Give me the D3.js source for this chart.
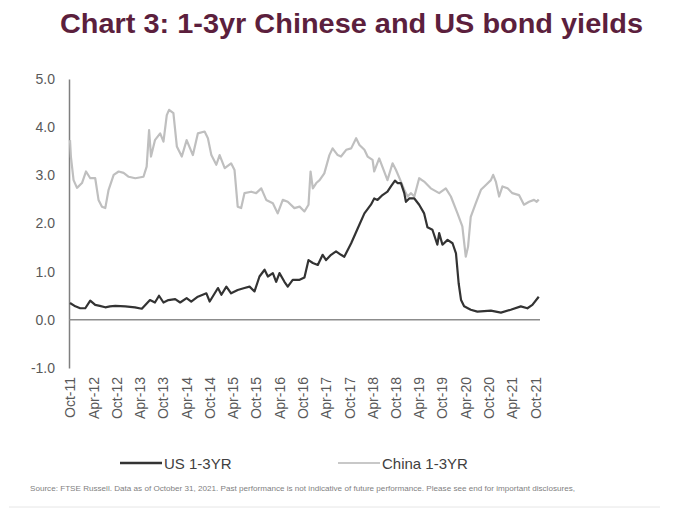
<!DOCTYPE html>
<html>
<head>
<meta charset="utf-8">
<script src="https://cdn.jsdelivr.net/npm/d3@7"></script>
<style>
  html, body { margin: 0; padding: 0; background: #fff; }
  svg { display: block; font-family: "Liberation Sans", Arial, sans-serif; }
</style>
</head>
<body>
<svg id="chart" width="700" height="515"></svg>
<script>
// ---- Data ----
const chinaDates = ["2011-10-01","2011-10-08","2011-10-29","2011-11-25","2012-01-03","2012-02-04","2012-03-08","2012-04-16","2012-05-12","2012-06-08","2012-07-04","2012-07-30","2012-09-08","2012-10-17","2012-11-25","2013-01-04","2013-02-25","2013-04-30","2013-05-25","2013-06-13","2013-06-28","2013-07-29","2013-09-08","2013-10-04","2013-10-30","2013-11-17","2013-12-21","2014-01-17","2014-02-25","2014-04-04","2014-05-23","2014-07-01","2014-08-23","2014-09-18","2014-10-15","2014-11-23","2014-12-19","2015-01-28","2015-03-19","2015-04-15","2015-05-10","2015-06-06","2015-07-02","2015-08-24","2015-10-02","2015-11-11","2015-12-20","2016-02-10","2016-03-19","2016-04-28","2016-06-06","2016-07-28","2016-09-07","2016-10-15","2016-11-16","2016-12-02","2016-12-20","2017-01-16","2017-02-11","2017-03-20","2017-04-29","2017-05-24","2017-07-03","2017-07-29","2017-09-08","2017-10-17","2017-11-25","2017-12-21","2018-01-29","2018-02-23","2018-04-03","2018-04-16","2018-05-25","2018-07-03","2018-07-29","2018-09-07","2018-10-04","2018-11-12","2018-12-08","2019-01-03","2019-01-30","2019-02-25","2019-04-04","2019-05-13","2019-07-04","2019-09-08","2019-10-30","2019-12-09","2020-01-30","2020-03-08","2020-04-04","2020-04-22","2020-05-13","2020-06-21","2020-08-01","2020-09-09","2020-10-18","2020-11-05","2020-11-26","2020-12-22","2021-01-17","2021-02-26","2021-04-05","2021-05-27","2021-07-05","2021-08-14","2021-09-22","2021-10-13","2021-10-29"];
const chinaValues = [3.73,3.39,2.90,2.74,2.84,3.08,2.94,2.94,2.49,2.35,2.32,2.70,3.01,3.08,3.05,2.97,2.94,2.97,3.18,3.94,3.39,3.73,3.87,3.70,4.25,4.36,4.29,3.60,3.39,3.73,3.42,3.87,3.91,3.77,3.42,3.22,3.42,3.15,3.25,3.11,2.35,2.32,2.63,2.66,2.63,2.73,2.49,2.42,2.21,2.49,2.45,2.32,2.35,2.25,2.39,3.08,2.73,2.84,2.90,3.04,3.42,3.56,3.42,3.39,3.53,3.56,3.77,3.63,3.53,3.39,3.32,3.08,3.35,3.08,2.90,3.25,3.11,2.87,2.70,2.56,2.63,2.56,2.94,2.87,2.73,2.63,2.73,2.56,2.21,1.94,1.31,1.52,2.14,2.42,2.70,2.80,2.90,3.01,2.87,2.56,2.77,2.73,2.63,2.59,2.39,2.45,2.49,2.45,2.50];

const usDates = ["2011-10-01","2011-11-12","2011-12-20","2012-01-29","2012-03-08","2012-04-16","2012-05-22","2012-07-04","2012-08-10","2012-09-21","2012-12-08","2013-02-22","2013-04-17","2013-06-20","2013-07-29","2013-08-30","2013-10-04","2013-11-12","2014-01-04","2014-02-12","2014-04-04","2014-05-10","2014-07-01","2014-09-06","2014-10-02","2014-12-06","2015-01-02","2015-02-10","2015-03-19","2015-05-10","2015-07-02","2015-08-11","2015-09-19","2015-10-28","2015-12-07","2016-01-02","2016-02-10","2016-03-07","2016-04-02","2016-05-11","2016-06-06","2016-07-15","2016-09-07","2016-10-15","2016-11-16","2016-12-20","2017-01-28","2017-03-07","2017-04-03","2017-05-12","2017-06-20","2017-07-29","2017-08-24","2017-10-17","2017-12-08","2018-01-29","2018-03-21","2018-04-16","2018-05-12","2018-06-20","2018-07-29","2018-08-25","2018-09-26","2018-10-16","2018-11-12","2018-12-08","2018-12-21","2019-01-16","2019-02-25","2019-04-04","2019-05-13","2019-06-08","2019-07-17","2019-08-25","2019-09-08","2019-10-04","2019-11-13","2019-12-22","2020-01-18","2020-02-08","2020-02-27","2020-03-22","2020-05-13","2020-07-04","2020-10-18","2021-01-05","2021-03-23","2021-06-10","2021-08-01","2021-09-09","2021-10-29"];
const usValues = [0.35,0.28,0.24,0.24,0.40,0.31,0.29,0.26,0.28,0.29,0.28,0.26,0.23,0.41,0.36,0.50,0.36,0.41,0.43,0.36,0.45,0.38,0.48,0.55,0.38,0.66,0.52,0.69,0.55,0.62,0.66,0.69,0.59,0.90,1.04,0.90,0.97,0.79,0.97,0.79,0.69,0.83,0.83,0.88,1.24,1.18,1.14,1.35,1.24,1.35,1.42,1.35,1.31,1.59,1.90,2.21,2.39,2.52,2.49,2.59,2.66,2.77,2.89,2.84,2.84,2.63,2.45,2.52,2.52,2.39,2.21,1.92,1.87,1.56,1.80,1.56,1.66,1.59,1.38,0.76,0.41,0.28,0.21,0.17,0.19,0.15,0.21,0.28,0.24,0.31,0.48];

const yTickValues = [-1, 0, 1, 2, 3, 4, 5];
const xTickDates = ["2011-10-01","2012-04-01","2012-10-01","2013-04-01","2013-10-01","2014-04-01","2014-10-01","2015-04-01","2015-10-01","2016-04-01","2016-10-01","2017-04-01","2017-10-01","2018-04-01","2018-10-01","2019-04-01","2019-10-01","2020-04-01","2020-10-01","2021-04-01","2021-10-01"];
const seriesNames = ["US 1-3YR", "China 1-3YR"];
const titleText = "Chart 3: 1-3yr Chinese and US bond yields";
const sourceText = "Source: FTSE Russell. Data as of October 31, 2021. Past performance is not indicative of future performance. Please see end for important disclosures,";

// ---- Build ----
const parse = d3.timeParse("%Y-%m-%d");
const svg = d3.select("#chart");

const x = d3.scaleTime()
  .domain([parse("2011-10-01"), parse("2021-10-31")])
  .range([70, 539]);
const y = d3.scaleLinear().domain([-1, 5]).range([368, 79]);

// Title
svg.append("text")
  .attr("x", 60).attr("y", 33)
  .attr("textLength", 583).attr("lengthAdjust", "spacingAndGlyphs")
  .style("font-size", "28px").style("font-weight", "bold")
  .style("fill", "#5c1f3d")
  .text(titleText);

// Y axis
const yAxis = svg.append("g")
  .attr("transform", "translate(69,0)")
  .call(d3.axisLeft(y).tickValues(yTickValues).tickSize(0).tickPadding(14)
        .tickFormat(d => d.toFixed(1)));
yAxis.select(".domain").attr("stroke", "#7f7f7f").attr("stroke-width", 1.5);
yAxis.selectAll("text").style("font-size", "14px").style("fill", "#595959")
  .style("font-family", "'Liberation Sans', Arial, sans-serif");

// Zero line
svg.append("line")
  .attr("x1", 69).attr("x2", x.range()[1] + 1)
  .attr("y1", y(0)).attr("y2", y(0))
  .attr("stroke", "#8c8c8c").attr("stroke-width", 1.5);

// X axis labels (rotated)
const fmt = d3.timeFormat("%b-%y");
const xAxis = svg.append("g")
  .attr("transform", `translate(0,${y(-1)})`)
  .call(d3.axisBottom(x).tickValues(xTickDates.map(parse)).tickSize(0).tickFormat(fmt));
xAxis.select(".domain").remove();
xAxis.selectAll("text")
  .attr("transform", "rotate(-90)")
  .attr("x", -9).attr("y", 0).attr("dy", "0.35em")
  .style("text-anchor", "end")
  .style("font-size", "14px").style("fill", "#595959")
  .style("font-family", "'Liberation Sans', Arial, sans-serif");

// Lines
const line = d3.line().x(d => x(d[0])).y(d => y(d[1]));
const chinaData = chinaDates.map((d, i) => [parse(d), chinaValues[i]]);
const usData = usDates.map((d, i) => [parse(d), usValues[i]]);

svg.append("path").datum(chinaData)
  .attr("d", line).attr("fill", "none")
  .attr("stroke", "#bfbfbf").attr("stroke-width", 2.2).attr("stroke-linejoin", "round");
svg.append("path").datum(usData)
  .attr("d", line).attr("fill", "none")
  .attr("stroke", "#333333").attr("stroke-width", 2.2).attr("stroke-linejoin", "round");

// Legend
const legend = [
  { name: seriesNames[0], color: "#333333", w: 2.5, x: 120 },
  { name: seriesNames[1], color: "#c8c8c8", w: 2, x: 338 }
];
legend.forEach(l => {
  svg.append("line").attr("x1", l.x).attr("x2", l.x + 42)
    .attr("y1", 463).attr("y2", 463)
    .attr("stroke", l.color).attr("stroke-width", l.w);
  svg.append("text").attr("x", l.x + 44).attr("y", 469)
    .style("font-size", "15px").style("fill", "#404040")
    .text(l.name);
});

// Source
svg.append("text")
  .attr("x", 30).attr("y", 491)
  .attr("textLength", 545).attr("lengthAdjust", "spacingAndGlyphs")
  .style("font-size", "8px").style("fill", "#7f7f7f")
  .text(sourceText);

// Bottom rule
svg.append("line").attr("x1", 9).attr("x2", 660)
  .attr("y1", 507).attr("y2", 507)
  .attr("stroke", "#e6e6e6").attr("stroke-width", 1);
</script>
</body>
</html>
